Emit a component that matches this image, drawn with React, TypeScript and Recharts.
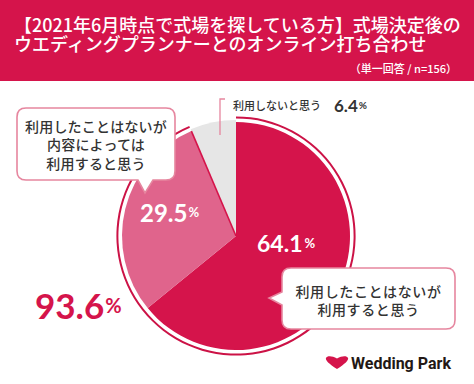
import React from 'react';
import { PieChart, Pie, Cell } from 'recharts';

const categories = [
  '利用したことはないが利用すると思う',
  '利用したことはないが内容によっては利用すると思う',
  '利用しないと思う',
];
const values = [64.1, 29.5, 6.4];
const sliceColors = ['#d5144b', '#e0648c', '#e6e6e6'];
const titleLines = [
  '【2021年6月時点で式場を探している方】式場決定後の',
  'ウエディングプランナーとのオンライン打ち合わせ',
];
const noteText = '（単一回答 / n=156）';
const box1Lines = ['利用したことはないが', '内容によっては', '利用すると思う'];
const box2Lines = ['利用したことはないが', '利用すると思う'];

const CRIMSON = '#d5144b';
const RING = '#cc1246';
const BORDER = '#e6869f';
const JP = '"Noto Sans CJK JP", "Noto Sans", sans-serif';
const NUM = 'Lato, "Noto Sans", sans-serif';

const data = categories.map((name, i) => ({ name, value: values[i] }));
const usedTotal = values[0] + values[1];
const ringData = [
  { name: 'used', value: usedTotal },
  { name: 'not', value: values[2] },
];

const RAD = Math.PI / 180;

const boundaryLabel = (props: any) => {
  if (props.index !== 1) return null;
  const cx = Number(props.cx);
  const cy = Number(props.cy);
  const r = Number(props.outerRadius);
  const a = Number(props.endAngle);
  const x = cx + Math.cos(-a * RAD) * r;
  const y = cy + Math.sin(-a * RAD) * r;
  return <line x1={cx} y1={cy} x2={x} y2={y} stroke={CRIMSON} strokeWidth={1.6} />;
};

export default function App() {
  return (
    <div style={{ position: 'absolute', left: 0, top: 0, width: 474, height: 384, background: '#fff', overflow: 'hidden' }}>
      <div style={{ position: 'absolute', left: 0, top: 0, width: 474, height: 81, background: CRIMSON }} />
      <div style={{ position: 'absolute', left: 0, top: 0 }}>
        <PieChart width={474} height={384} margin={{ top: 0, right: 0, bottom: 0, left: 0 }}>
          <Pie
            data={data}
            dataKey="value"
            cx={236}
            cy={236}
            outerRadius={116}
            startAngle={90}
            endAngle={-270}
            stroke="none"
            isAnimationActive={false}
          >
            {data.map((d, i) => (
              <Cell key={d.name} fill={i === 2 ? sliceColors[2] : 'transparent'} />
            ))}
          </Pie>
          <Pie
            data={data}
            dataKey="value"
            cx={236}
            cy={236}
            outerRadius={114}
            startAngle={90}
            endAngle={-270}
            stroke="none"
            labelLine={false}
            label={boundaryLabel}
            isAnimationActive={false}
          >
            {data.map((d, i) => (
              <Cell key={d.name} fill={sliceColors[i]} />
            ))}
          </Pie>
          <Pie
            data={ringData}
            dataKey="value"
            cx={236}
            cy={236}
            innerRadius={117.6}
            outerRadius={119.6}
            startAngle={90}
            endAngle={-270}
            stroke="none"
            isAnimationActive={false}
          >
            {ringData.map((d, i) => (
              <Cell key={d.name} fill={i === 0 ? RING : 'transparent'} />
            ))}
          </Pie>
        </PieChart>
      </div>
      <svg width={474} height={384} style={{ position: 'absolute', left: 0, top: 0, pointerEvents: 'none' }}>
        {/* header */}
        <text x={14} y={24} fill="#fff" fontFamily={JP} fontWeight={500} fontSize={18} dominantBaseline="central">
          {titleLines[0]}
        </text>
        <text x={14} y={42.5} fill="#fff" fontFamily={JP} fontWeight={500} fontSize={18} dominantBaseline="central">
          {titleLines[1]}
        </text>
        <text x={457} y={68} fill="#fff" fontFamily={JP} fontWeight={500} fontSize={11} textAnchor="end" dominantBaseline="central">
          {noteText}
        </text>

        {/* callout 1 */}
        <path
          d="M26,108 H166 Q175,108 175,117 V171 Q175,180 166,180 H153 L145,193 L138,180 H26 Q17,180 17,171 V117 Q17,108 26,108 Z"
          fill="#fff"
          stroke={BORDER}
          strokeWidth={1.6}
        />
        {box1Lines.map((t, i) => (
          <text key={i} x={96} y={[125.5, 144, 162.5][i]} fill="#333" fontFamily={JP} fontWeight={500} fontSize={14} letterSpacing={0.2} textAnchor="middle" dominantBaseline="central">
            {t}
          </text>
        ))}

        {/* callout 2 */}
        <path
          d="M291,268 H446 Q455,268 455,277 V320 Q455,329 446,329 H291 Q282,329 282,320 V305 L269,298 L282,292 V277 Q282,268 291,268 Z"
          fill="#fff"
          stroke={BORDER}
          strokeWidth={1.6}
        />
        {box2Lines.map((t, i) => (
          <text key={i} x={368.5} y={[291, 309][i]} fill="#333" fontFamily={JP} fontWeight={500} fontSize={14} letterSpacing={0.6} textAnchor="middle" dominantBaseline="central">
            {t}
          </text>
        ))}

        {/* gray label */}
        <path d="M225,99 H220 V135" fill="none" stroke={BORDER} strokeWidth={1.3} />
        <text x={233} y={105} fill="#333" fontFamily={JP} fontWeight={500} fontSize={11} dominantBaseline="central">
          {categories[2]}
        </text>
        <text x={334} y={105} fill="#333" fontFamily={NUM} fontWeight={700} dominantBaseline="central">
          <tspan fontSize={17}>{values[2].toFixed(1)}</tspan>
          <tspan fontSize={10} dx={1}>%</tspan>
        </text>

        {/* slice values */}
        <text x={140} y={212} fill="#fff" fontFamily={NUM} fontWeight={700} dominantBaseline="central">
          <tspan fontSize={24}>{values[1].toFixed(1)}</tspan>
          <tspan fontSize={13} dx={1}>%</tspan>
        </text>
        <text x={257} y={243} fill="#fff" fontFamily={NUM} fontWeight={700} dominantBaseline="central">
          <tspan fontSize={23}>{values[0].toFixed(1)}</tspan>
          <tspan fontSize={13} dx={2}>%</tspan>
        </text>

        {/* total */}
        <text x={35} y={304.5} fill={CRIMSON} fontFamily={NUM} fontWeight={700} dominantBaseline="central">
          <tspan fontSize={35}>{usedTotal.toFixed(1)}</tspan>
          <tspan fontSize={20} dx={1}>%</tspan>
        </text>

        {/* logo */}
        <path
          d="M337,369 C329,364 325,360 326,358 C327,355.5 332,355.5 337,358.5 C342,355.5 347,355.5 348,358 C349,360 345,364 337,369 Z"
          fill={CRIMSON}
        />
        <text x={351} y={363} fill="#231815" fontFamily="Roboto, sans-serif" fontWeight={700} fontSize={16} dominantBaseline="central">
          Wedding Park
        </text>
      </svg>
    </div>
  );
}
